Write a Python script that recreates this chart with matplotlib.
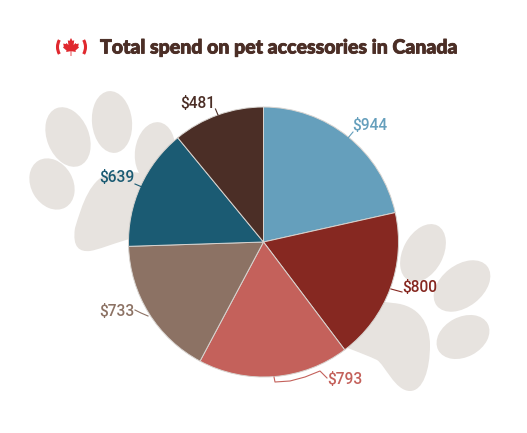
import matplotlib
matplotlib.use("Agg")
import matplotlib.pyplot as plt
import matplotlib.patheffects as pe
from matplotlib.patches import Ellipse, PathPatch, Polygon, Arc
from matplotlib.path import Path

W, H = 527, 433

# data
title = "Total spend on pet accessories in Canada"
values = [944, 800, 793, 733, 639, 481]
labels = ["$944", "$800", "$793", "$733", "$639", "$481"]
colors = ["#659FBC", "#862821", "#C4615B", "#8C7264", "#1B5B73", "#4B2E26"]

PAW = "#E7E3DF"
BROWN = "#4B2E26"
RED = "#E0282E"


def flip(pts):
    # picture coords have y going down
    return [(x, H - y) for x, y in pts]


fig = plt.figure(figsize=(W / 100, H / 100), dpi=100)
ax = fig.add_axes([0, 0, 1, 1])

# ── paw prints behind the pie ──
toes = [(52, 184, 42, 54, 30), (68, 137, 42, 62, 22), (112, 122, 40, 62, 6), (155, 152, 40, 60, -8),
        (423, 253, 40, 62, -28), (462, 286, 42, 64, -52), (463, 337, 40, 56, -62)]
for x, y, w, h, angle in toes:
    ax.add_patch(Ellipse((x, H - y), w, h, angle=angle, color=PAW, lw=0, zorder=1))

pad_left = [(200, 190), (160, 175), (135, 170), (113, 172), (90, 177), (82, 205), (75, 228),
            (72, 248), (80, 252), (90, 251), (108, 248), (135, 232), (200, 225)]
pad_right = [(330, 300), (370, 300), (385, 302), (393, 303), (420, 305), (430, 325), (430, 345),
             (430, 370), (423, 391), (410, 391), (395, 391), (385, 365), (377, 360), (360, 352),
             (345, 348), (330, 340)]
for pts in (pad_left, pad_right):
    codes = [Path.MOVETO] + [Path.CURVE4] * (len(pts) - 1)
    ax.add_patch(PathPatch(Path(flip(pts), codes), facecolor=PAW, lw=0, zorder=1))

# ── pie ──
wedges, _ = ax.pie(values, colors=colors, startangle=90, counterclock=False,
                   center=(263.5, H - 242), radius=135, frame=True,
                   wedgeprops={"edgecolor": "#D8D4D0", "linewidth": 0.7})
for w in wedges:
    w.set_zorder(2)
ax.set_xlim(0, W)
ax.set_ylim(0, H)
ax.set_aspect("auto")
ax.axis("off")

# ── labels and leader lines ──
label_pos = [(352, 126, "left"), (402, 287, "left"), (327, 379, "left"),
             (135, 312, "right"), (134, 178, "right"), (215, 104, "right")]
leaders = [[(353, 132), (348, 138)],
           [(391, 289), (402, 292)],
           [(274, 377), (275, 382), (290, 381), (305, 377), (320, 371), (327, 378)],
           [(135, 310), (141, 313), (148, 316)],
           [(135, 184), (142, 187)],
           [(215.5, 109), (218, 115)]]
for lab, col, (x, y, ha), line in zip(labels, colors, label_pos, leaders):
    ax.text(x, H - y, lab, color=col, fontsize=11.2, family="Roboto", fontweight="medium",
            ha=ha, va="center", zorder=4)
    xs, ys = zip(*flip(line))
    ax.plot(xs, ys, color=col, lw=0.8, zorder=3)

# ── title with maple leaf ──
ax.text(100, H - 47, title, color=BROWN, fontsize=14.05, fontweight="black",
        family="Lato", ha="left", va="center", zorder=4,
        path_effects=[pe.withStroke(linewidth=0.6, foreground=BROWN)])

leaf = [(71, 38), (72.6, 41), (74.2, 40.2), (73.6, 45), (75.5, 43), (76.2, 44), (78.8, 43.6), (78.2, 46.5),
        (79, 47.5), (75.5, 50.5), (75.8, 52), (71.4, 51.2), (71.4, 56), (70.6, 56), (70.6, 51.2),
        (66.2, 52), (66.5, 50.5), (63, 47.5), (63.8, 46.5), (63.2, 43.6), (65.8, 44), (66.5, 43), (68.4, 45),
        (67.8, 40.2), (69.4, 41)]
ax.add_patch(Polygon(flip(leaf), closed=True, facecolor=RED, lw=0, zorder=4))
ax.add_patch(Arc((71.5, H - 47), 28, 28, theta1=150, theta2=210, color=RED, lw=2.2, zorder=4))
ax.add_patch(Arc((71.5, H - 47), 28, 28, theta1=-30, theta2=30, color=RED, lw=2.2, zorder=4))

fig.savefig("out.png", dpi=100)
